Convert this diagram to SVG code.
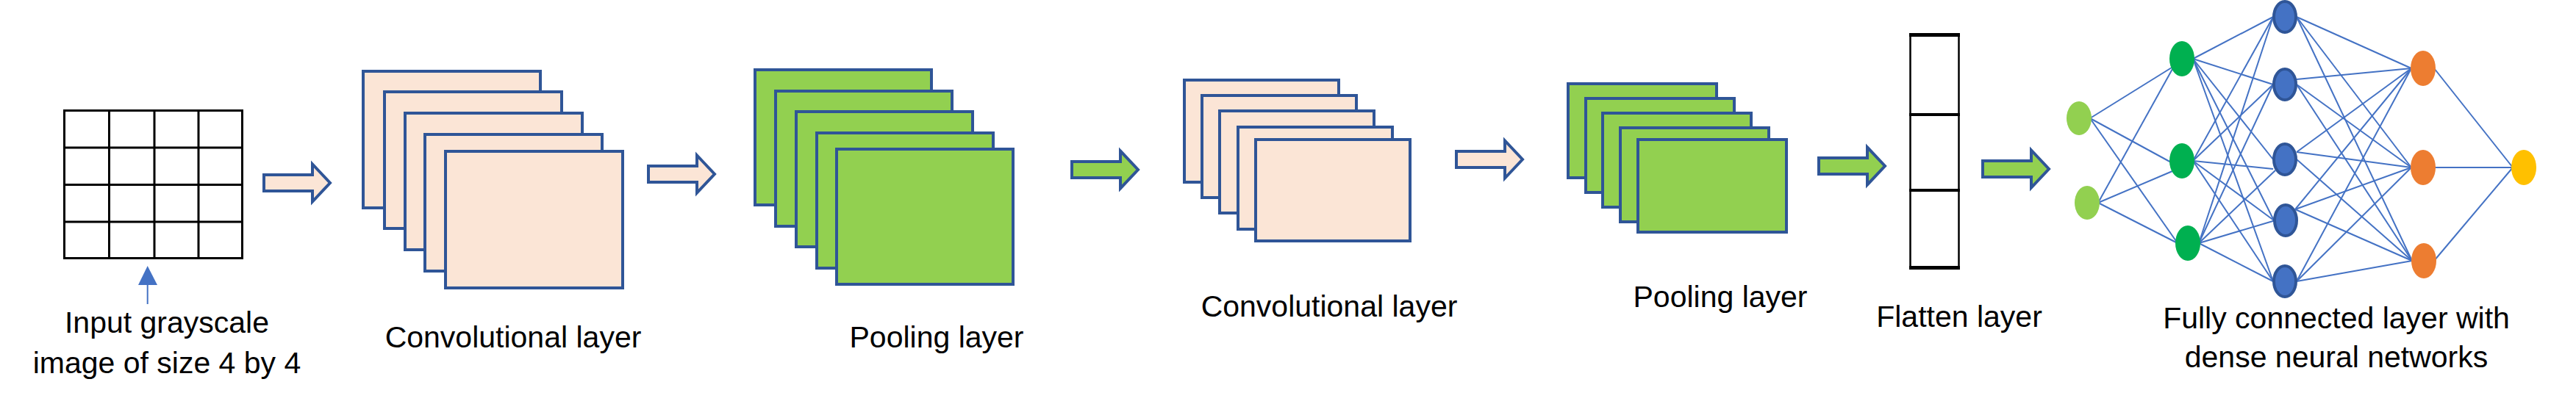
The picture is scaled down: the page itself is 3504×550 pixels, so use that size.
<svg xmlns="http://www.w3.org/2000/svg" xmlns:xlink="http://www.w3.org/1999/xlink" width="3504" height="550" viewBox="0 0 3504 550">
<style>
.lbl{font-family:"Liberation Sans",Arial,sans-serif;font-size:41px;fill:#000;text-anchor:middle}
.peach{fill:#FBE5D6;stroke:#2F5597;stroke-width:4}
.green{fill:#92D050;stroke:#2F5597;stroke-width:4}
.grid{fill:none;stroke:#000;stroke-width:3}
.edge{stroke:#4472C4;stroke-width:2}
.n1{fill:#92D050}
.n2{fill:#00B050}
.n3{fill:#4472C4;stroke:#2F5597;stroke-width:4}
.n4{fill:#ED7D31}
.n5{fill:#FFC000}
</style>
<defs>
<path id="arr" d="M2,-11 H68 V-25.5 L92,0 L68,25.5 V11 H2 Z" stroke="#2F5597" stroke-width="4"/>
</defs>
<rect width="3504" height="550" fill="#fff"/>

<g id="input-image">
<rect class="grid" x="87.5" y="150.5" width="242" height="201"/>
<line class="grid" x1="148.5" y1="150" x2="148.5" y2="352"/>
<line class="grid" x1="210" y1="150" x2="210" y2="352"/>
<line class="grid" x1="270" y1="150" x2="270" y2="352"/>
<line class="grid" x1="87" y1="201" x2="330" y2="201"/>
<line class="grid" x1="87" y1="251.5" x2="330" y2="251.5"/>
<line class="grid" x1="87" y1="302" x2="330" y2="302"/>
<line x1="200.7" y1="386" x2="200.7" y2="414" stroke="#4472C4" stroke-width="2"/>
<polygon points="188,388 214,388 200.7,362" fill="#4472C4"/>
<text class="lbl" x="227" y="453">Input grayscale</text>
<text class="lbl" x="227" y="508">image of size 4 by 4</text>
</g>

<g id="conv-layer-1">
<rect class="peach" x="494" y="97" width="241" height="186"/>
<rect class="peach" x="523" y="125" width="241" height="186"/>
<rect class="peach" x="551" y="154" width="241" height="186"/>
<rect class="peach" x="578" y="183" width="241" height="186"/>
<rect class="peach" x="606" y="206" width="241" height="186"/>
<text class="lbl" x="698" y="473">Convolutional layer</text>
</g>

<g id="pooling-layer-1">
<rect class="green" x="1027" y="95" width="240" height="184"/>
<rect class="green" x="1055" y="124" width="240" height="184"/>
<rect class="green" x="1083" y="152" width="240" height="184"/>
<rect class="green" x="1111" y="181" width="240" height="184"/>
<rect class="green" x="1138" y="203" width="240" height="184"/>
<text class="lbl" x="1274" y="473">Pooling layer</text>
</g>

<g id="conv-layer-2">
<rect class="peach" x="1611" y="109" width="210" height="139"/>
<rect class="peach" x="1635" y="130" width="210" height="139"/>
<rect class="peach" x="1659" y="151" width="210" height="139"/>
<rect class="peach" x="1684" y="173" width="210" height="139"/>
<rect class="peach" x="1708" y="190" width="210" height="138"/>
<text class="lbl" x="1808" y="431">Convolutional layer</text>
</g>

<g id="pooling-layer-2">
<rect class="green" x="2133" y="114" width="202" height="128"/>
<rect class="green" x="2157" y="134" width="202" height="128"/>
<rect class="green" x="2180" y="154" width="202" height="128"/>
<rect class="green" x="2204" y="174" width="202" height="128"/>
<rect class="green" x="2228" y="190" width="202" height="126"/>
<text class="lbl" x="2340" y="418">Pooling layer</text>
</g>

<g id="flatten-layer">
<rect x="2598.5" y="46.5" width="66" height="319" fill="#fff" stroke="#000" stroke-width="2.5"/>
<line x1="2597" y1="47.5" x2="2666" y2="47.5" stroke="#000" stroke-width="5"/>
<line x1="2597" y1="156" x2="2666" y2="156" stroke="#000" stroke-width="4"/>
<line x1="2597" y1="259" x2="2666" y2="259" stroke="#000" stroke-width="4"/>
<line x1="2597" y1="364.5" x2="2666" y2="364.5" stroke="#000" stroke-width="5"/>
<text class="lbl" x="2665" y="445">Flatten layer</text>
</g>

<g id="connectors">
<use xlink:href="#arr" href="#arr" fill="#FBE5D6" transform="translate(357,249)"/>
<use xlink:href="#arr" href="#arr" fill="#FBE5D6" transform="translate(880,237)"/>
<use xlink:href="#arr" href="#arr" fill="#92D050" transform="translate(1456,231)"/>
<use xlink:href="#arr" href="#arr" fill="#FBE5D6" transform="translate(1979,217)"/>
<use xlink:href="#arr" href="#arr" fill="#92D050" transform="translate(2472,226)"/>
<use xlink:href="#arr" href="#arr" fill="#92D050" transform="translate(2695,230)"/>
<g id="dense-edges">
<line class="edge" x1="2843" y1="161" x2="2954" y2="92"/>
<line class="edge" x1="2843" y1="161" x2="2955" y2="222"/>
<line class="edge" x1="2843" y1="161" x2="2962" y2="331"/>
<line class="edge" x1="2854" y1="276" x2="2955" y2="94"/>
<line class="edge" x1="2854" y1="276" x2="2955" y2="233"/>
<line class="edge" x1="2854" y1="276" x2="2962" y2="331"/>

<line class="edge" x1="2983" y1="80" x2="3092" y2="23"/>
<line class="edge" x1="2983" y1="80" x2="3092" y2="115"/>
<line class="edge" x1="2983" y1="80" x2="3092" y2="217"/>
<line class="edge" x1="2983" y1="80" x2="3093" y2="300"/>
<line class="edge" x1="2983" y1="80" x2="3092" y2="383"/>
<line class="edge" x1="2983" y1="219" x2="3092" y2="23"/>
<line class="edge" x1="2983" y1="219" x2="3092" y2="115"/>
<line class="edge" x1="2983" y1="219" x2="3092" y2="230"/>
<line class="edge" x1="2983" y1="219" x2="3093" y2="300"/>
<line class="edge" x1="2983" y1="219" x2="3092" y2="383"/>
<line class="edge" x1="2991" y1="331" x2="3092" y2="23"/>
<line class="edge" x1="2991" y1="331" x2="3092" y2="115"/>
<line class="edge" x1="2991" y1="331" x2="3095" y2="232"/>
<line class="edge" x1="2991" y1="331" x2="3095" y2="300"/>
<line class="edge" x1="2991" y1="331" x2="3092" y2="383"/>

<line class="edge" x1="3124" y1="23" x2="3280" y2="93"/>
<line class="edge" x1="3124" y1="23" x2="3280" y2="228"/>
<line class="edge" x1="3124" y1="23" x2="3281" y2="355"/>
<line class="edge" x1="3124" y1="108" x2="3280" y2="93"/>
<line class="edge" x1="3124" y1="115" x2="3280" y2="228"/>
<line class="edge" x1="3124" y1="115" x2="3281" y2="355"/>
<line class="edge" x1="3124" y1="207" x2="3280" y2="93"/>
<line class="edge" x1="3124" y1="207" x2="3280" y2="228"/>
<line class="edge" x1="3124" y1="217" x2="3281" y2="355"/>
<line class="edge" x1="3122" y1="285" x2="3280" y2="93"/>
<line class="edge" x1="3122" y1="285" x2="3280" y2="228"/>
<line class="edge" x1="3122" y1="285" x2="3281" y2="355"/>
<line class="edge" x1="3124" y1="383" x2="3280" y2="93"/>
<line class="edge" x1="3124" y1="383" x2="3280" y2="228"/>
<line class="edge" x1="3124" y1="383" x2="3281" y2="355"/>

<line class="edge" x1="3311" y1="93" x2="3418" y2="228"/>
<line class="edge" x1="3311" y1="228" x2="3418" y2="228"/>
<line class="edge" x1="3311" y1="355" x2="3418" y2="228"/>
</g>
</g>

<g id="dense-network">
<g id="input-neurons">
<ellipse class="n1" cx="2828" cy="161" rx="17" ry="23"/>
<ellipse class="n1" cx="2839" cy="276" rx="17" ry="23"/>
</g>
<g id="hidden-neurons-1">
<ellipse class="n2" cx="2968" cy="80" rx="17" ry="24"/>
<ellipse class="n2" cx="2968" cy="219" rx="17" ry="24"/>
<ellipse class="n2" cx="2976" cy="331" rx="17" ry="24"/>
</g>
<g id="hidden-neurons-2">
<ellipse class="n3" cx="3108" cy="23" rx="15" ry="21"/>
<ellipse class="n3" cx="3108" cy="115" rx="15" ry="21"/>
<ellipse class="n3" cx="3108" cy="217" rx="15" ry="21"/>
<ellipse class="n3" cx="3109" cy="300" rx="15" ry="21"/>
<ellipse class="n3" cx="3108" cy="383" rx="15" ry="21"/>
</g>
<g id="hidden-neurons-3">
<ellipse class="n4" cx="3296" cy="93" rx="17" ry="24"/>
<ellipse class="n4" cx="3296" cy="228" rx="17" ry="24"/>
<ellipse class="n4" cx="3297" cy="355" rx="17" ry="24"/>
</g>
<g id="output-neuron">
<ellipse class="n5" cx="3433" cy="228" rx="17" ry="24"/>
</g>
<text class="lbl" x="3178" y="447">Fully connected layer with</text>
<text class="lbl" x="3178" y="500">dense neural networks</text>
</g>
</svg>
